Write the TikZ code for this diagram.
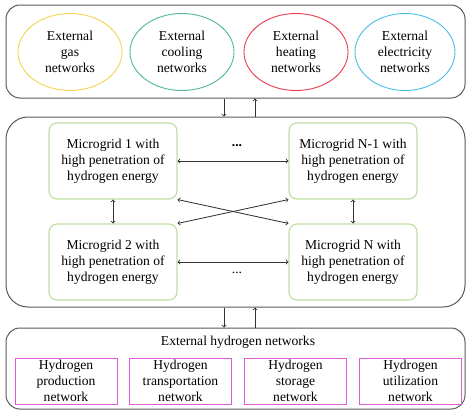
\documentclass[tikz,border=0pt]{standalone}
\usepackage{fontspec}
\setmainfont{Liberation Serif}
\usepackage{tikz}
\usetikzlibrary{shapes,positioning,calc}
\usetikzlibrary{shapes.geometric, arrows}
\usetikzlibrary{arrows.meta}
\definecolor{giallogas}{RGB}{246,210,80}
\definecolor{verdefreddo}{RGB}{80,186,140}
\definecolor{rossocalore}{RGB}{232,60,80}
\definecolor{bluelettr}{RGB}{70,190,232}
\definecolor{verdemg}{RGB}{190,222,158}
\definecolor{rosaidro}{RGB}{220,90,212}
\tikzstyle{cornice} = [rectangle, rounded corners=14pt, minimum width=459pt, draw=black!65, line width=1pt]
\tikzstyle{rete} = [ellipse, minimum width=104pt, minimum height=77pt, inner sep=0pt, align=center, line width=0.9pt]
\tikzstyle{microrete} = [rectangle, rounded corners=8pt, minimum width=128pt, minimum height=76pt, align=center, draw=verdemg, line width=1.1pt]
\tikzstyle{idrogeno} = [rectangle, minimum width=102pt, minimum height=46pt, inner sep=0pt, align=center, draw=rosaidro, line width=1pt]
\tikzstyle{arrow} = [->,>=to, line width=0.85pt, draw=black!80]
\tikzstyle{doppia} = [<->,>=to, line width=0.85pt, draw=black!80]

\begin{document}
\begin{tikzpicture}[x=1pt, y=-1pt, every node/.style={font=\fontsize{13.6}{16}\selectfont}]
				\useasboundingbox (0,0) rectangle (474,416);
				% reti esterne
				\node (esterne) at (235.5,51.5) [cornice, minimum height=93pt] {};
				\node (gas) at (70,52) [rete, draw=giallogas] {External\\gas\\networks};
				\node (freddo) at (182,52) [rete, draw=verdefreddo] {External\\cooling\\networks};
				\node (calore) at (296,52) [rete, draw=rossocalore] {External\\heating\\networks};
				\node (elettr) at (405,52) [rete, draw=bluelettr, minimum width=100pt] {External\\electricity\\networks};
				% microreti
				\node (microreti) at (235.5,212) [cornice, minimum height=190pt, rounded corners=22pt] {};
				\node (mg1) at (113,161) [microrete] {Microgrid 1 with\\high penetration of\\hydrogen energy};
				\node (mg2) at (113,262) [microrete] {Microgrid 2 with\\high penetration of\\hydrogen energy};
				\node (mgN1) at (353,161) [microrete] {Microgrid N-1 with\\high penetration of\\hydrogen energy};
				\node (mgN) at (353,262) [microrete] {Microgrid N with\\high penetration of\\hydrogen energy};
				\node (punti1) at (237,146) {\textbf{...}};
				\node (punti2) at (237,273) {...};
				% reti idrogeno
				\node (idro) at (235.5,368.5) [cornice, minimum height=81pt] {};
				\node (titolo) at (238,342) {External hydrogen networks};
				\node (h1) at (66,381) [idrogeno] {Hydrogen\\production\\network};
				\node (h2) at (180.5,381) [idrogeno] {Hydrogen\\transportation\\network};
				\node (h3) at (295.5,381) [idrogeno] {Hydrogen\\storage\\network};
				\node (h4) at (410.5,381) [idrogeno] {Hydrogen\\utilization\\network};
				\coordinate (giu) at (224,0);
				\coordinate (su) at (255,0);
				\draw[arrow] (esterne.south -| giu) -- (microreti.north -| giu);
				\draw[arrow] (microreti.north -| su) -- (esterne.south -| su);
				\draw[arrow] (microreti.south -| giu) -- (idro.north -| giu);
				\draw[arrow] (idro.north -| su) -- (microreti.south -| su);
				\draw[doppia] (mg1) -- (mgN1);
				\draw[doppia] (mg2) -- (mgN);
				\draw[doppia] (mg1) -- (mg2);
				\draw[doppia] (mgN1) -- (mgN);
				\draw[doppia] (mg1.south east) -- (mgN.north west);
				\draw[doppia] (mg2.north east) -- (mgN1.south west);
\end{tikzpicture}
\end{document}
